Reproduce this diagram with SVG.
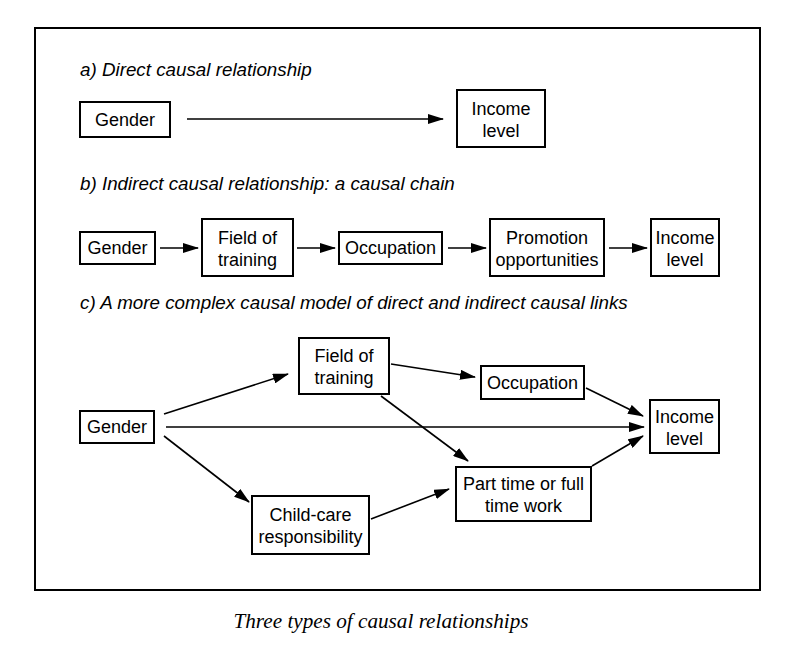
<svg xmlns="http://www.w3.org/2000/svg" width="795" height="653" viewBox="0 0 795 653">
<defs>
<marker id="ah" markerWidth="16" markerHeight="10" refX="15" refY="5" orient="auto" markerUnits="userSpaceOnUse">
<path d="M0,0 L16,5 L0,10 Z" fill="#000"/>
</marker>
<style>
.box{fill:#fff;stroke:#000;stroke-width:2}
.lbl{font-family:"Liberation Sans",Arial,sans-serif;font-size:18px;text-anchor:middle;fill:#000}
.ttl{font-family:"Liberation Sans",Arial,sans-serif;font-size:18.8px;font-style:italic;fill:#000}
.cap{font-family:"Liberation Serif","Times New Roman",serif;font-size:21.2px;font-style:italic;text-anchor:middle;fill:#000}
.c line{stroke:#000;stroke-width:1.6;marker-end:url(#ah)}
</style>
</defs>
<rect width="795" height="653" fill="#fff"/>
<rect x="35" y="28" width="725" height="562" fill="none" stroke="#000" stroke-width="2"/>
<text class="ttl" x="80" y="76">a) Direct causal relationship</text>
<text class="ttl" x="80" y="190">b) Indirect causal relationship: a causal chain</text>
<text class="ttl" x="80" y="309">c) A more complex causal model of direct and indirect causal links</text>

<g id="a-gender"><rect class="box" x="80" y="102" width="90" height="35"/><text class="lbl" x="125" y="126">Gender</text></g>
<g id="a-income"><rect class="box" x="457" y="90" width="88" height="57"/><text class="lbl" x="501" y="115">Income</text><text class="lbl" x="501" y="137">level</text></g>

<g id="b-gender"><rect class="box" x="80" y="232" width="75" height="32"/><text class="lbl" x="117.5" y="254">Gender</text></g>
<g id="b-field"><rect class="box" x="202" y="219" width="91" height="57"/><text class="lbl" x="247.5" y="244">Field of</text><text class="lbl" x="247.5" y="266">training</text></g>
<g id="b-occupation"><rect class="box" x="339" y="232" width="103" height="32"/><text class="lbl" x="390.5" y="254">Occupation</text></g>
<g id="b-promotion"><rect class="box" x="490" y="219" width="114" height="57"/><text class="lbl" x="547" y="244">Promotion</text><text class="lbl" x="547" y="266">opportunities</text></g>
<g id="b-income"><rect class="box" x="651" y="219" width="68" height="57"/><text class="lbl" x="685" y="244">Income</text><text class="lbl" x="685" y="266">level</text></g>

<g id="c-field"><rect class="box" x="299" y="338" width="90" height="56"/><text class="lbl" x="344" y="362">Field of</text><text class="lbl" x="344" y="384">training</text></g>
<g id="c-occupation"><rect class="box" x="481" y="366" width="103" height="33"/><text class="lbl" x="532.5" y="389">Occupation</text></g>
<g id="c-gender"><rect class="box" x="80" y="411" width="74" height="32"/><text class="lbl" x="117" y="433">Gender</text></g>
<g id="c-income"><rect class="box" x="650" y="400" width="69" height="53"/><text class="lbl" x="684.5" y="423">Income</text><text class="lbl" x="684.5" y="445">level</text></g>
<g id="c-parttime"><rect class="box" x="456" y="467" width="135" height="54"/><text class="lbl" x="523.5" y="490">Part time or full</text><text class="lbl" x="523.5" y="512">time work</text></g>
<g id="c-childcare"><rect class="box" x="252" y="496" width="117" height="58"/><text class="lbl" x="310.5" y="521">Child-care</text><text class="lbl" x="310.5" y="543">responsibility</text></g>

<g id="connectors" class="c">
<line x1="187" y1="119" x2="443" y2="119"/>
<line x1="160" y1="248" x2="198" y2="248"/>
<line x1="297" y1="248" x2="335" y2="248"/>
<line x1="448" y1="248" x2="486" y2="248"/>
<line x1="609" y1="248" x2="647" y2="248"/>
<line x1="164" y1="414" x2="288" y2="374"/>
<line x1="391" y1="364" x2="475" y2="377"/>
<line x1="381" y1="396" x2="468" y2="461"/>
<line x1="166" y1="427" x2="644" y2="427"/>
<line x1="586" y1="388" x2="643" y2="416"/>
<line x1="592" y1="466" x2="643" y2="436"/>
<line x1="164" y1="436" x2="249" y2="502"/>
<line x1="371" y1="519" x2="449" y2="489"/>
</g>
<text class="cap" x="381" y="628">Three types of causal relationships</text>
</svg>
